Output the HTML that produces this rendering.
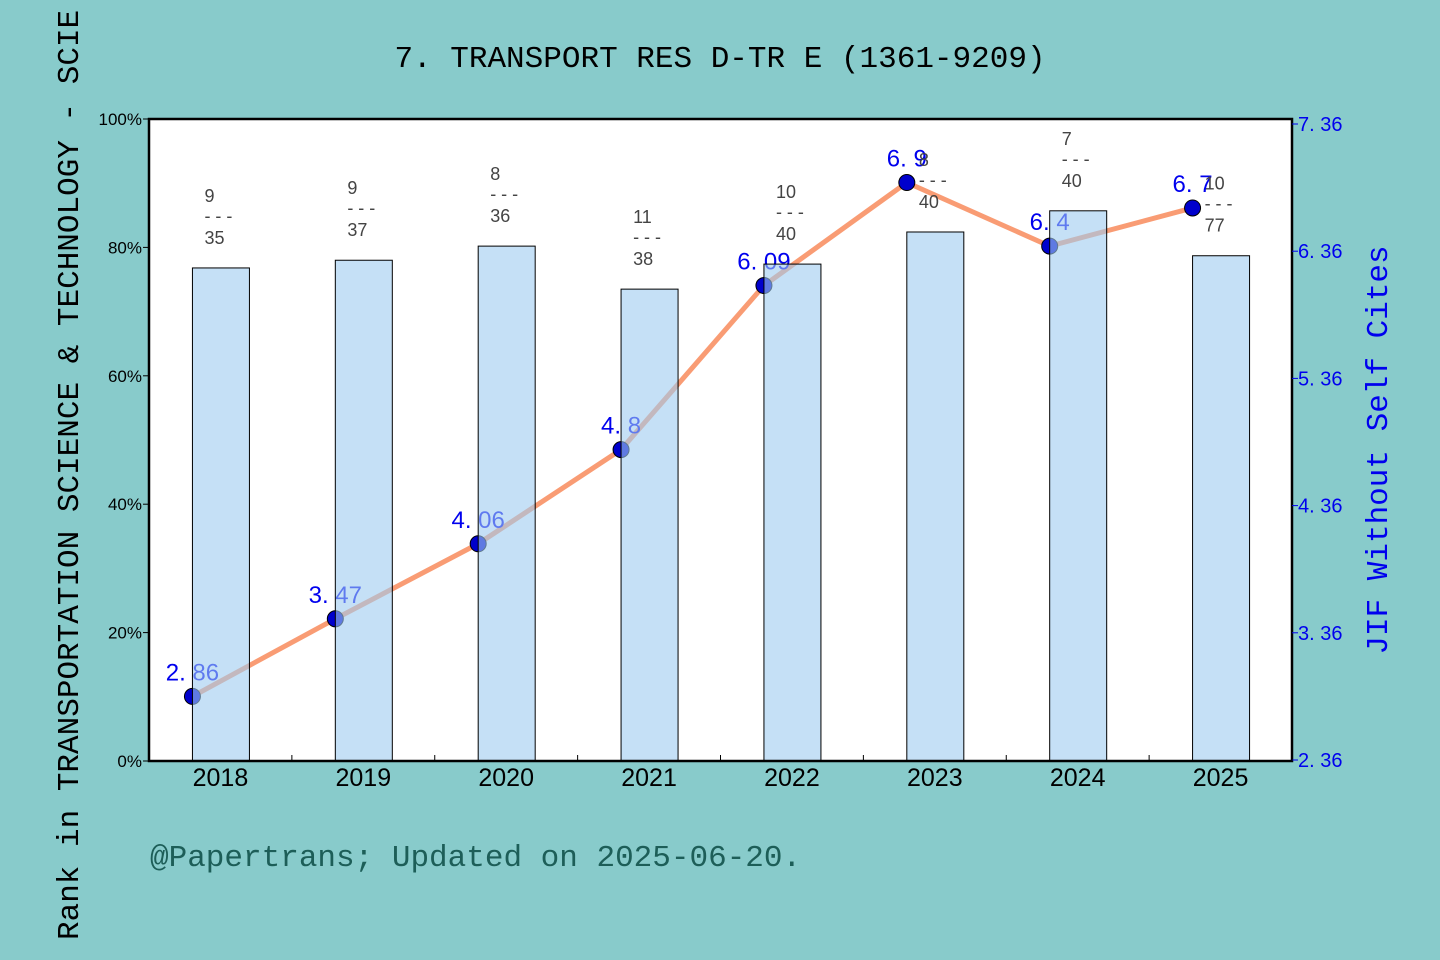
<!DOCTYPE html>
<html><head><meta charset="utf-8"><style>
body{margin:0;background:#88cbcb;}
svg{display:block;}
</style></head><body>
<svg id="chart" width="1440" height="960" xmlns="http://www.w3.org/2000/svg">
<rect x="0" y="0" width="1440" height="960" fill="#88cbcb"/>
<text x="720" y="67" text-anchor="middle" font-family="Liberation Mono, monospace" font-size="31" fill="#000">7. TRANSPORT RES D-TR E (1361-9209)</text>
<rect x="149" y="119" width="1143" height="642" fill="#fff"/>
<g id="lineLayer"></g>
<g id="barLayer"></g>
<rect x="149" y="119" width="1143" height="642" fill="none" stroke="#000" stroke-width="2.5"/>
<g id="axes"></g>
<text transform="translate(78,940) rotate(-90)" font-family="Liberation Mono, monospace" font-size="31" fill="#000">Rank in TRANSPORTATION SCIENCE &amp; TECHNOLOGY - SCIE</text>
<text transform="translate(1387,450) rotate(-90)" text-anchor="middle" font-family="Liberation Mono, monospace" font-size="31" fill="#0000ee">JIF Without Self Cites</text>
<text x="150" y="866" font-family="Liberation Mono, monospace" font-size="31" fill="#1d5e58">@Papertrans; Updated on 2025-06-20.</text>
</svg>
<script>
const years = ["2018","2019","2020","2021","2022","2023","2024","2025"];
const rankPct = [76.8, 78.0, 80.2, 73.5, 77.4, 82.4, 85.7, 78.7];
const rankNum = ["9","9","8","11","10","8","7","10"];
const rankDen = ["35","37","36","38","40","40","40","77"];
const jif = [2.86, 3.47, 4.06, 4.8, 6.09, 6.9, 6.4, 6.7];
const jifLabels = ["2.86","3.47","4.06","4.8","6.09","6.9","6.4","6.7"];
const leftTicks = [0,20,40,60,80,100];
const rightTicks = [2.36,3.36,4.36,5.36,6.36,7.36];

const NS="http://www.w3.org/2000/svg";
const px0=149, pw=1143, pTop=119, pBot=761;
const step=pw/years.length;
const xc=i=>px0+step*(i+0.5);
const yL=v=>pBot-(pBot-pTop)*v/100;
const yR=v=>760-(v-2.36)*127.2;
function mk(t,a,p){const e=document.createElementNS(NS,t);for(const k in a)e.setAttribute(k,a[k]);p.appendChild(e);return e;}
const lineL=document.getElementById('lineLayer'), barL=document.getElementById('barLayer'), ax=document.getElementById('axes');

const pts=jif.map((v,i)=>(xc(i)-28)+','+yR(v)).join(' ');
const pl=mk('polyline',{points:pts,fill:'none',stroke:'#f99c74','stroke-width':5,'stroke-linejoin':'round'},lineL);


jif.forEach((v,i)=>{
  const c=mk('circle',{cx:xc(i)-28,cy:yR(v),r:8,fill:'#0000cc',stroke:'#000','stroke-width':1},lineL);
  
  
  const t=mk('text',{x:xc(i)-28,y:yR(v)-16,'text-anchor':'middle','font-family':'Liberation Sans, sans-serif','font-size':24,fill:'#0000ee'},lineL);
  t.textContent=jifLabels[i].replace('.','. ');
  
  
});
rankPct.forEach((v,i)=>{
  const bx=xc(i)-28, by=yL(v);
  const g=mk('g',{'font-family':'Liberation Sans, sans-serif','font-size':18,fill:'#444'},barL);
  
  
  const lx=xc(i)-16;
  mk('text',{x:lx,y:by-66},g).textContent=rankNum[i];
  mk('text',{x:lx,y:by-46,'letter-spacing':'5'},g).textContent='---';
  mk('text',{x:lx,y:by-24},g).textContent=rankDen[i];
  const r=mk('rect',{x:bx,y:by,width:57,height:pBot-by,fill:'#9fcbf0','fill-opacity':0.6,stroke:'#000','stroke-width':1},barL);
  
  
});
leftTicks.forEach(v=>{
  const y=yL(v);
  mk('line',{x1:143,x2:149,y1:y,y2:y,stroke:'#000'},ax);
  const t=mk('text',{x:142,y:y+6,'text-anchor':'end','font-family':'Liberation Sans, sans-serif','font-size':17,fill:'#000'},ax);
  t.textContent=v+'%';
  
  
});
rightTicks.forEach(v=>{
  const y=yR(v);
  mk('line',{x1:1292,x2:1298,y1:y,y2:y,stroke:'#0000ee'},ax);
  const t=mk('text',{x:1298,y:y+7,'font-family':'Liberation Sans, sans-serif','font-size':20,fill:'#0000ee'},ax);
  t.textContent=v.toFixed(2).replace('.','. ');
  
  
});
years.forEach((yr,i)=>{
  mk('line',{x1:px0+step*(i+1),x2:px0+step*(i+1),y1:pBot,y2:pBot-6,stroke:'#000'},ax);
  const t=mk('text',{x:xc(i),y:786,'text-anchor':'middle','font-family':'Liberation Sans, sans-serif','font-size':25,fill:'#000'},ax);
  t.textContent=yr;
  
  
});
</script>
</body></html>
